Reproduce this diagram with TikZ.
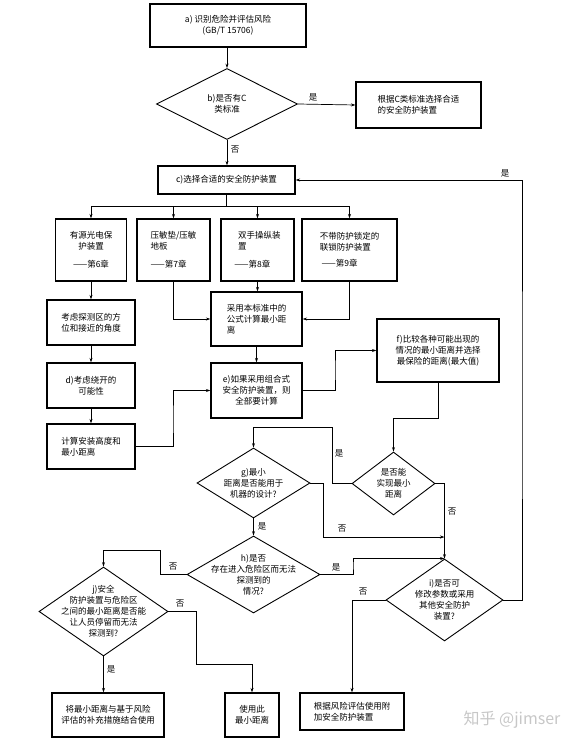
\documentclass[tikz,border=0pt]{standalone}
\usepackage{fontspec}
\setmainfont{Noto Sans CJK SC}
\usetikzlibrary{shapes.geometric,arrows.meta}
\tikzset{
  kbox/.style={draw,line width=1.1pt,inner sep=2pt,font=\fontsize{8.5}{11}\selectfont},
  kdia/.style={draw,diamond,line width=0.9pt,inner sep=0pt},
  ktxt/.style={align=center,font=\fontsize{8.5}{11}\selectfont},
  klab/.style={font=\fontsize{8.5}{10}\selectfont,inner sep=1pt},
  karr/.style={-{Stealth[length=4.5pt,width=3pt]},line width=0.7pt},
  kln/.style={line width=0.7pt}
}
\begin{document}
\begin{tikzpicture}[x=1pt,y=-1pt]
\useasboundingbox (0,0) rectangle (582,746);
\node[kbox,minimum width=156pt,minimum height=43pt,align=center] (a) at (228,25.5) {a) 识别危险并评估风险\\(GB/T 15706)};
\node[kdia,minimum width=141pt,minimum height=71pt] (b) at (227,104) {};
\node[ktxt] (bt) at (b) {b)是否有C\\类标准};
\node[kbox,minimum width=125pt,minimum height=46pt,align=left] (cs) at (418.5,105) {根据C类标准选择合适\\的安全防护装置};
\node[kbox,minimum width=137pt,minimum height=28pt] (c) at (226.5,180) {c)选择合适的安全防护装置};
\node[kbox,minimum width=71pt,minimum height=62pt,align=center] (d6) at (91,250) {有源光电保\\护装置\\[7pt]——第6章};
\node[kbox,minimum width=73pt,minimum height=62pt,align=left] (d7) at (173.5,250) {压敏垫/压敏\\地板\\[7pt]——第7章};
\node[kbox,minimum width=73pt,minimum height=62pt,align=left] (d8) at (257.5,250) {\ \ 双手操纵装\\\ \ 置\\[7pt]——第8章};
\node[kbox,minimum width=95pt,minimum height=62pt,align=left] (d9) at (349.5,250) {不带防护锁定的\\联锁防护装置\\[5pt]\ ——第9章};
\node[kbox,minimum width=88pt,minimum height=45pt,align=center] (ang) at (91,322.5) {考虑探测区的方\\位和接近的角度};
\node[kbox,minimum width=88pt,minimum height=45pt,align=center] (byp) at (91,385.5) {d)考虑绕开的\\可能性};
\node[kbox,minimum width=88pt,minimum height=45pt,align=left] (hgt) at (91,446.5) {计算安装高度和\\最小距离};
\node[kbox,minimum width=91pt,minimum height=54pt,align=left] (frm) at (256.5,319) {采用本标准中的\\公式计算最小距\\离};
\node[kbox,minimum width=91pt,minimum height=55pt,align=center] (cmb) at (256.5,390.5) {e)如果采用组合式\\安全防护装置，则\\全部要计算};
\node[kbox,minimum width=122pt,minimum height=63pt,align=center] (cmp) at (438,350.5) {f)比较各种可能出现的\\情况的最小距离并选择\\最保险的距离(最大值)};
\node[kdia,minimum width=83pt,minimum height=63pt] (ach) at (393.5,483.5) {};
\node[ktxt] (acht) at (ach) {是否能\\实现最小\\距离};
\node[kdia,minimum width=113pt,minimum height=70pt] (des) at (253.5,483) {};
\node[ktxt] (dest) at (des) {g)最小\\距离是否能用于\\机器的设计?};
\node[kdia,minimum width=133pt,minimum height=77pt] (det) at (253.5,574.5) {};
\node[ktxt] (dett) at (det) {h)是否\\存在进入危险区而无法\\探测到的\\情况?};
\node[kdia,minimum width=117pt,minimum height=82pt] (mod) at (444.5,600) {};
\node[ktxt] (modt) at (mod) {i)是否可\\修改参数或采用\\其他安全防护\\装置?};
\node[kdia,minimum width=129pt,minimum height=89pt] (stay) at (103.5,611.5) {};
\node[ktxt] (stayt) at (stay) {j)安全\\防护装置与危险区\\之间的最小距离是否能\\让人员停留而无法\\探测到?};
\node[kbox,minimum width=112pt,minimum height=44pt,align=center] (sup) at (108,715) {将最小距离与基于风险\\评估的补充措施结合使用};
\node[kbox,minimum width=54pt,minimum height=44pt,align=center] (use) at (252,715) {使用此\\最小距离};
\node[kbox,minimum width=104pt,minimum height=37pt,align=left] (add) at (352,711.5) {根据风险评估使用附\\加安全防护装置};
\coordinate (sp) at (227,206);
\coordinate (hc) at (173,420);
\coordinate (ef) at (335,370);
\coordinate (fk) at (393.5,418);
\coordinate (kg) at (332,427);
\coordinate (gi) at (323,537);
\coordinate (hi) at (353,565);
\coordinate (ic) at (522,400);
\coordinate (hj) at (160,550);
\coordinate (ju) at (196,664);
\draw[karr] (b.north |- a.south) -- (b.north);
\draw[karr] (b.east) -- (cs.west);
\draw[karr] (b.south) -- (b.south |- c.north);
\draw[kln] (c.south) -- (c.south |- sp);
\foreach \n in {d6,d7,d8,d9}{\draw[karr] (sp) -| (\n.north);}
\draw[karr] (d6.south) -- (ang.north);
\draw[karr] (ang.south) -- (byp.north);
\draw[karr] (byp.south) -- (hgt.north);
\draw[karr] (hgt.east) -| (hc) |- (cmb.west);
\draw[karr] (d7.south) |- (frm.west);
\draw[karr] (d9.south) |- (frm.east);
\draw[karr] (d8.south) -- (d8.south |- frm.north);
\draw[karr] (frm.south) -- (cmb.north);
\draw[karr] (cmb.east) -| (ef) |- (cmp.west);
\draw[karr] (cmp.south) |- (fk) -- (ach.north);
\draw[karr] (ach.west) -| (kg) -| (des.north);
\draw[karr] (ach.east) -| (mod.north);
\draw[karr] (des.east) -| (gi) -- (gi -| mod.north);
\draw[karr] (des.south) -- (det.north);
\draw[karr] (det.east) -| (hi) |- (mod.north);
\draw[karr] (mod.east) -| (ic) |- (c.east);
\draw[karr] (mod.west) -| (add.north);
\draw[karr] (det.west) -| (hj) -| (stay.north);
\draw[karr] (stay.east) -| (ju) -| (use.north);
\draw[karr] (stay.south) -- (stay.south |- sup.north);
\node[klab] (l1) at (313,97) {是};
\node[klab] (l2) at (235,150) {否};
\node[klab] (l3) at (505,173) {是};
\node[klab] (l4) at (339,453) {是};
\node[klab] (l5) at (452,512) {否};
\node[klab] (l6) at (342,529) {否};
\node[klab] (l7) at (262,526) {是};
\node[klab] (l8) at (336,567) {是};
\node[klab] (l9) at (173,567) {否};
\node[klab] (l10) at (363,592) {否};
\node[klab] (l11) at (180,604) {否};
\node[klab] (l12) at (111,669) {是};
\node[text=black!22,font=\fontsize{16}{16}\selectfont] (wm) at (512,720) {知乎 @jimser};
\end{tikzpicture}
\end{document}
